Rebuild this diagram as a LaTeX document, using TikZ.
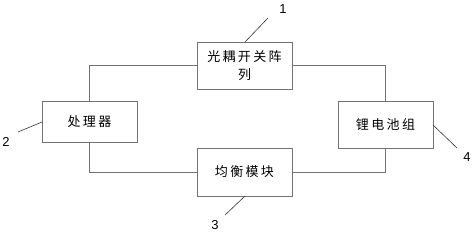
\documentclass[tikz,border=0pt]{standalone}
\usepackage{fontspec}
\setmainfont{Liberation Sans}
\newfontfamily\cjk[LetterSpace=18]{Noto Sans CJK SC}
\begin{document}
\begin{tikzpicture}[x=1pt,y=-1pt,
  blk/.style={draw=black!55, line width=0.6pt, fill=white, inner sep=0pt, font=\cjk\fontsize{13}{18}\selectfont, align=center},
  wire/.style={draw=black!55, line width=0.6pt},
  lead/.style={draw=black!80, line width=0.6pt},
  num/.style={font=\fontsize{13}{13}\selectfont, inner sep=0pt}]
\useasboundingbox (0,0) rectangle (474,233);
% boxes
\node[blk, minimum width=95pt, minimum height=47pt] (sw) at (244.5,65.5) {光耦开关阵\\列};
\node[blk, minimum width=95pt, minimum height=41pt] (cpu) at (89.5,121.5) {处理器};
\node[blk, minimum width=95pt, minimum height=47pt] (bat) at (385.5,124.5) {锂电池组};
\node[blk, minimum width=95pt, minimum height=48pt] (bal) at (244.5,172) {均衡模块};
% wires
\draw[wire] (cpu.north) |- (sw.west);
\draw[wire] (sw.east) -| (bat.north);
\draw[wire] (cpu.south) |- (bal.west);
\draw[wire] (bal.east) -| (bat.south);
% labels
\coordinate (e1) at (268,18);
\coordinate (e2) at (18,132);
\coordinate (e3) at (225,215);
\coordinate (e4) at (457,148);
\draw[lead] (245,42) -- (e1);
\draw[lead] (42,122) -- (e2);
\draw[lead] (245,196) -- (e3);
\draw[lead] (433,125) -- (e4);
\node[num] (n1) at (283,9) {1};
\node[num] (n2) at (6,142) {2};
\node[num] (n3) at (215,225) {3};
\node[num] (n4) at (467,157) {4};
\end{tikzpicture}
\end{document}
